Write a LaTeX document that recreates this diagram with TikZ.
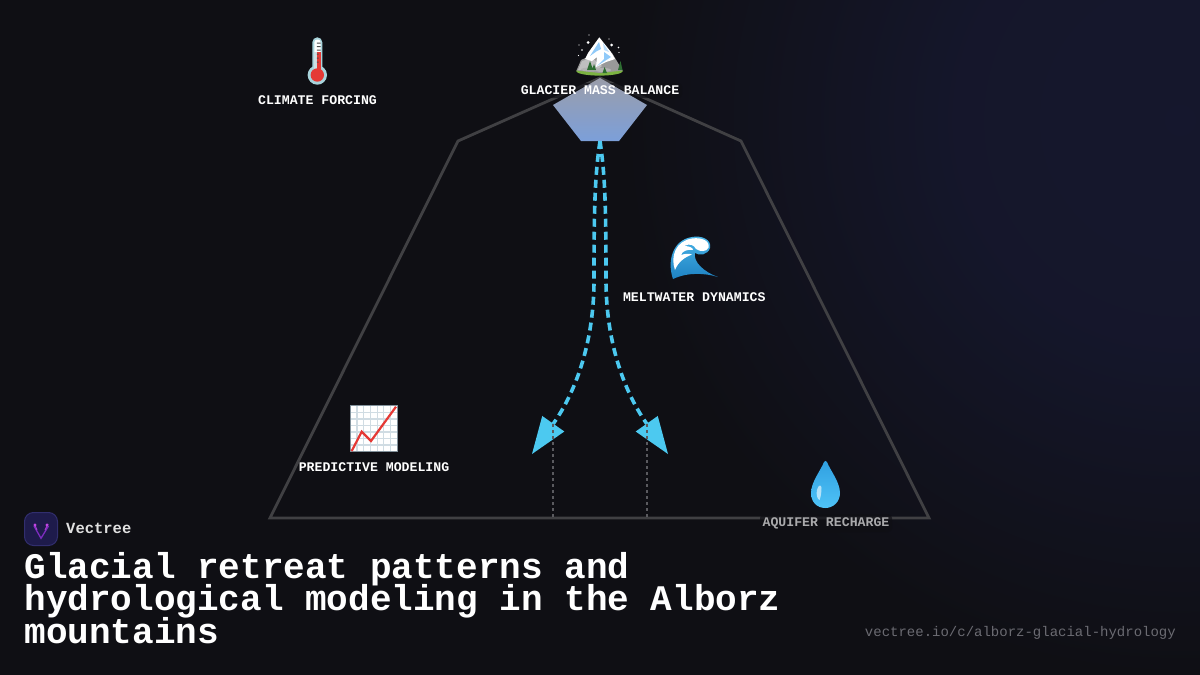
\documentclass[tikz,border=0pt]{standalone}
\usepackage{fontspec}
\setmainfont{Liberation Mono}
\usetikzlibrary{arrows.meta}
\lineskiplimit=-100pt
\normallineskiplimit=-100pt
\definecolor{bgbase}{HTML}{0F0F14}
\definecolor{outlinec}{HTML}{404043}
\definecolor{flowc}{HTML}{4CC9F0}
\definecolor{guidec}{HTML}{5A5A5F}
\definecolor{iceTop}{HTML}{9A9DAA}
\definecolor{iceMid}{HTML}{AEB5CA}
\definecolor{iceBot}{HTML}{7C9FD9}
\pgfdeclareradialshading{glowS}{\pgfpoint{0bp}{0bp}}{rgb(0bp)=(0.083,0.09,0.175);rgb(9bp)=(0.081,0.088,0.168);rgb(22.5bp)=(0.059,0.059,0.078);rgb(50bp)=(0.059,0.059,0.078)}
\tikzset{
  lbl/.style={font=\bfseries\fontsize{13.2}{15}\selectfont,text=white,inner sep=0pt,anchor=center},
  halo/.style={fill=bgbase,rounded corners=4pt},
  flow/.style={draw=flowc,line width=3.6pt,dash pattern=on 8pt off 5pt,-{Triangle[length=37pt,width=27pt,fill=flowc,line width=0pt]}},
  guide/.style={draw=guidec,line width=1.5pt,dash pattern=on 3pt off 3pt},
  frame/.style={draw=outlinec,line width=2.8pt,line join=miter},
  titletxt/.style={font=\bfseries\fontsize{36}{32.5}\selectfont,text=white,inner sep=0pt,anchor=north west,align=left}
}
\begin{document}
\begin{tikzpicture}[x=1pt,y=-1pt]
\useasboundingbox (0,0) rectangle (1200,675);
\fill[bgbase] (0,0) rectangle (1200,675);
\begin{scope}
\clip (0,0) rectangle (1200,675);
\shade[shading=glowS] (1180,120) circle (620);
\end{scope}
% frame
\draw[frame] (600,78) -- (741,141) -- (929,518) -- (270,518) -- (458,141) -- cycle;
\fill[halo,opacity=.7] (518,83) rectangle (682,98);
% glacier block
\shade[top color=iceTop,middle color=iceMid,bottom color=iceBot] (600,78) -- (647,105) -- (619,141) -- (581,141) -- (553,105) -- cycle;
% connectors
\coordinate (fl) at (553,518);
\coordinate (fr) at (647,518);
\coordinate (gl) at (553,424);
\coordinate (gr) at (647,424);
\coordinate (src) at (600,141);
\coordinate (tl) at (532,454);
\coordinate (tr) at (668,454);
\draw[flow] (src) .. controls (595,175) and (594,205) .. (594,280) .. controls (594,340) and (577,390) .. (tl);
\draw[flow] (src) .. controls (605,175) and (606,205) .. (606,280) .. controls (606,340) and (623,390) .. (tr);
\draw[guide] (gl) -- (fl);
\draw[guide] (gr) -- (fr);
% thermometer
\fill[fill={rgb,255:red,168;green,212;blue,220},rounded corners=5pt] (312.3,37.3) rectangle (322.3,76);
\fill[fill={rgb,255:red,168;green,212;blue,220}] (317.3,75) circle (9.7);
\fill[white,rounded corners=2.7pt] (314.4,39.5) rectangle (320.6,70);
\fill[fill={rgb,255:red,205;green,222;blue,226}] (314.4,52) rectangle (316.8,70);
\fill[fill={rgb,255:red,229;green,57;blue,53}] (316.8,52) rectangle (320.6,70);
\fill[fill={rgb,255:red,229;green,57;blue,53}] (317.3,75) circle (6.7);
\fill[black!70] (316.8,42.5) rectangle (320.6,43.7) (316.8,46) rectangle (320.6,47.2) (316.8,49.5) rectangle (320.6,50.7) (316.8,53.5) rectangle (318.5,54.7) (316.8,57.5) rectangle (318.5,58.7) (316.8,61.5) rectangle (318.5,62.7);
% mountain
\fill[fill={rgb,255:red,124;green,179;blue,66}] (599.5,71) ellipse (23.5 and 4.6);
\fill[black!40] (576.5,70.5) -- (581,60) -- (590,56) -- (612,53) -- (622.5,70.5) -- (600,73) -- cycle;
\fill[black!25] (578,70) -- (582,61) -- (592,58) -- (602,66) -- (597,70) -- cycle;
\fill[white] (599.3,37.3) -- (588,53) -- (585,59) -- (592,61) -- (597,57) -- (596,67) -- (606,62) -- (615,59) -- (611,52) -- cycle;
\fill[fill={rgb,255:red,144;green,202;blue,249}] (599,42) -- (590,56) -- (597,51) -- (601,49) -- cycle (604,52) -- (611,57) -- (597,66) -- (604,59) -- cycle;
\fill[fill={rgb,255:red,187;green,222;blue,251}] (603,43) -- (609,52) -- (604,50) -- cycle;
\fill[black!30] (590,69.5) ellipse (9 and 2) (603,70) ellipse (8 and 2);
\fill[fill={rgb,255:red,46;green,110;blue,50}] (587,70) -- (590,61) -- (593,70) -- cycle (592,70) -- (594,64) -- (596,70) -- cycle (602.5,73) -- (604.5,67) -- (607,73) -- cycle (618,70) -- (620.5,61) -- (622.5,70) -- cycle;
\fill[white] (588,42.5) circle (1.5) (611.5,45) circle (1.5) (618.5,47.5) circle (0.9) (582,50) circle (0.9) (619,52.5) circle (0.7) (578.5,55.5) circle (0.7) (589,35) circle (0.7) (609,39) circle (0.6) (579,45) circle (0.6);
% wave
\shade[top color={rgb,255:red,74;green,181;blue,232},bottom color={rgb,255:red,30;green,130;blue,195}] (673,279) .. controls (667,262) and (672,240) .. (692,237) .. controls (702,235) and (712,240) .. (710,248) .. controls (708,255) and (699,256) .. (695,253) .. controls (693,262) and (704,272) .. (718,277) .. controls (705,273) and (688,272) .. (673,279) -- cycle;
\fill[white] (675,270) .. controls (670,256) and (676,241) .. (692,238.5) .. controls (702,237) and (710,241) .. (708.5,247.5) .. controls (707,252) and (700,252) .. (696,249) .. controls (694,245) and (690,243) .. (684,246) .. controls (690,246) and (693,248) .. (693,250) .. controls (688,249) and (682,251) .. (681,255) .. controls (685,253.5) and (689,253.5) .. (692,254.5) .. controls (685,257) and (678,262) .. (675,270) -- cycle;
% chart
\fill[white] (350.3,405.7) rectangle (397.3,451.7);
\draw[line width=1.1pt,draw={rgb,255:red,208;green,220;blue,227}] (350.3,412.5) -- (397.3,412.5) (350.3,419) -- (397.3,419) (350.3,425.5) -- (397.3,425.5) (350.3,432) -- (397.3,432) (350.3,438.5) -- (397.3,438.5) (350.3,445) -- (397.3,445) (357,405.7) -- (357,451.7) (363.7,405.7) -- (363.7,451.7) (370.4,405.7) -- (370.4,451.7) (377.1,405.7) -- (377.1,451.7) (383.8,405.7) -- (383.8,451.7) (390.5,405.7) -- (390.5,451.7);
\draw[line width=0.9pt,draw={rgb,255:red,130;green,145;blue,155}] (350.3,405.7) rectangle (397.3,451.7);
\draw[line width=2.2pt,draw={rgb,255:red,229;green,57;blue,53},line join=miter] (351.7,451) -- (361.7,431.7) -- (371,441) -- (396,406.7);
% droplet
\shade[top color={rgb,255:red,48;green,160;blue,225},bottom color={rgb,255:red,79;green,195;blue,247}] (824,462) .. controls (825,460.5) and (826,460.5) .. (827,462) .. controls (830,470) and (840,482) .. (840,493) .. controls (840,502) and (833,508) .. (825.3,508) .. controls (817,508) and (811,502) .. (811,493) .. controls (811,482) and (821,470) .. (824,462) -- cycle;
\fill[white,opacity=.6] (817,490) .. controls (818,485) and (821.5,484) .. (821.5,488) .. controls (821.5,493) and (820.5,498) .. (819.5,500) .. controls (817,499) and (816,494) .. (817,490) -- cycle;
% labels
\fill[halo,opacity=.7] (760,514) rectangle (892,532);
\node[lbl] (climate) at (317.5,100) {CLIMATE FORCING};
\node[lbl] (glacier) at (600,90) {GLACIER MASS BALANCE};
\node[lbl] (melt) at (694.3,297) {MELTWATER DYNAMICS};
\node[lbl] (pred) at (374,467) {PREDICTIVE MODELING};
\node[lbl,text={rgb,255:red,170;green,170;blue,172}] (aquifer) at (826,523.3) {AQUIFER RECHARGE};
% logo
\draw[fill={rgb,255:red,30;green,27;blue,75},draw={rgb,255:red,49;green,46;blue,110},line width=1pt,rounded corners=9pt] (24.5,512.5) rectangle (57.5,545.5);
\draw[draw={rgb,255:red,124;green,44;blue,191},line width=1.3pt] (34,526) -- (41,538.3) -- (48.5,526);
\draw[draw={rgb,255:red,170;green,60;blue,210},line width=1pt] (34.5,524) -- (37,530) (48,524) -- (45,530);
\fill[fill={rgb,255:red,192;green,70;blue,225}] (35,525) circle (1.7) (47,525) circle (1.7);
\node[font=\bfseries\fontsize{15.5}{18}\selectfont,text={rgb,255:red,224;green,224;blue,224},inner sep=0pt,anchor=west] (brand) at (66,528.5) {Vectree};
% title & url
\node[titletxt] (title) at (24.3,552) {Glacial retreat patterns and\\hydrological modeling in the Alborz\\mountains};
\node[font=\fontsize{14}{16}\selectfont,text={rgb,255:red,107;green,107;blue,114},inner sep=0pt,anchor=east] (url) at (1176,633) {vectree.io/c/alborz-glacial-hydrology};
\end{tikzpicture}
\end{document}
